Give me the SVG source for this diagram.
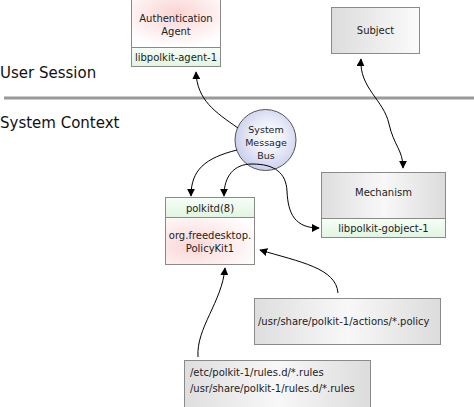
<svg xmlns="http://www.w3.org/2000/svg" width="474" height="407" viewBox="0 0 474 407">
<defs>
<radialGradient id="pink" cx="0.5" cy="0.3" r="0.7">
<stop offset="0" stop-color="#fbd3d3"/>
<stop offset="1" stop-color="#ffffff"/>
</radialGradient>
<radialGradient id="pink2" cx="0.3" cy="0.6" r="0.8">
<stop offset="0" stop-color="#fbd6d6"/>
<stop offset="1" stop-color="#ffffff"/>
</radialGradient>
<linearGradient id="green" x1="0" y1="1" x2="0" y2="0">
<stop offset="0" stop-color="#e1f5e1"/>
<stop offset="1" stop-color="#f7fdf7"/>
</linearGradient>
<linearGradient id="gray" x1="0" y1="0" x2="1" y2="0">
<stop offset="0" stop-color="#dedede"/>
<stop offset="0.5" stop-color="#f8f8f8"/>
<stop offset="1" stop-color="#dcdcdc"/>
</linearGradient>
<linearGradient id="gray2" x1="0" y1="0" x2="1" y2="0">
<stop offset="0" stop-color="#dcdcdc"/>
<stop offset="1" stop-color="#fbfbfb"/>
</linearGradient>
<radialGradient id="blue" cx="0.55" cy="0.45" r="0.6">
<stop offset="0" stop-color="#ffffff"/>
<stop offset="0.4" stop-color="#eef0fa"/>
<stop offset="1" stop-color="#c6cbea"/>
</radialGradient>
<marker id="ah" viewBox="0 0 10 10" refX="9" refY="5" markerWidth="8" markerHeight="8" markerUnits="userSpaceOnUse" orient="auto-start-reverse">
<path d="M0,0 L10,5 L0,10 z" fill="#000"/>
</marker>
</defs>
<style>
.box{stroke:#8a8a8a;stroke-width:1}
.t{font-family:"DejaVu Sans",Verdana,sans-serif;font-size:10px;fill:#222}
.c{text-anchor:middle}
.big{font-family:"DejaVu Sans",Verdana,sans-serif;font-size:15px;fill:#111}
.conn{fill:none;stroke:#000;stroke-width:1}
</style>

<line x1="4" y1="98" x2="474" y2="98" stroke="#999" stroke-width="3"/>
<text class="big" x="0" y="78">User Session</text>
<text class="big" x="0" y="128">System Context</text>

<g id="bus">
<circle cx="265.5" cy="140" r="30.5" fill="url(#blue)" stroke="#555" stroke-width="1"/>
<text class="t c" x="266" y="133" style="font-size:9.5px">System</text>
<text class="t c" x="266" y="146" style="font-size:9.5px">Message</text>
<text class="t c" x="266" y="159" style="font-size:9.5px">Bus</text>
</g>

<g id="connectors">
<path class="conn" d="M238,128 C215,112 197,100 196,72" marker-end="url(#ah)"/>
<path class="conn" d="M237,150 C205,158 191,170 191,196" marker-end="url(#ah)"/>
<path class="conn" d="M224,196 C224,176 234,164 252,164 C275,164 286,173 287,191 C288,214 295,228 319,228" marker-start="url(#ah)" marker-end="url(#ah)"/>
<path class="conn" d="M361,59 C359,88 384,100 389,124 C394,146 403,150 403,168" marker-start="url(#ah)" marker-end="url(#ah)"/>
<path class="conn" d="M338,293 C336,268 300,262 260,250" marker-end="url(#ah)"/>
<path class="conn" d="M198,357 C196,328 222,302 225,268" marker-end="url(#ah)"/>
</g>

<g id="auth-agent">
<rect class="box" x="131.5" y="-1.5" width="89" height="49" fill="url(#pink)"/>
<rect class="box" x="131.5" y="47.5" width="89" height="19" fill="url(#green)"/>
<text class="t c" x="176" y="22">Authentication</text>
<text class="t c" x="176" y="35">Agent</text>
<text class="t c" x="176" y="61">libpolkit-agent-1</text>
</g>

<g id="subject">
<rect class="box" x="331.5" y="7.5" width="88" height="46" fill="url(#gray2)"/>
<text class="t c" x="375.5" y="34">Subject</text>
</g>

<g id="polkitd">
<rect class="box" x="165.5" y="197.5" width="89" height="20" fill="url(#green)"/>
<rect class="box" x="165.5" y="217.5" width="89" height="47" fill="url(#pink2)"/>
<text class="t c" x="210" y="212">polkitd(8)</text>
<text class="t c" x="210" y="239">org.freedesktop.</text>
<text class="t c" x="210" y="252">PolicyKit1</text>
</g>

<g id="mechanism">
<rect class="box" x="321.5" y="172.5" width="124" height="46" fill="url(#gray)"/>
<rect class="box" x="321.5" y="218.5" width="124" height="19" fill="url(#green)"/>
<text class="t c" x="383.5" y="196">Mechanism</text>
<text class="t c" x="383.5" y="232">libpolkit-gobject-1</text>
</g>

<g id="policy">
<rect class="box" x="254.5" y="298.5" width="186" height="46" fill="url(#gray)"/>
<text class="t" x="258" y="325">/usr/share/polkit-1/actions/*.policy</text>
</g>

<g id="rules">
<rect class="box" x="184.5" y="360.5" width="186" height="52" fill="url(#gray)"/>
<text class="t" x="190" y="376">/etc/polkit-1/rules.d/*.rules</text>
<text class="t" x="190" y="392">/usr/share/polkit-1/rules.d/*.rules</text>
</g>
</svg>
